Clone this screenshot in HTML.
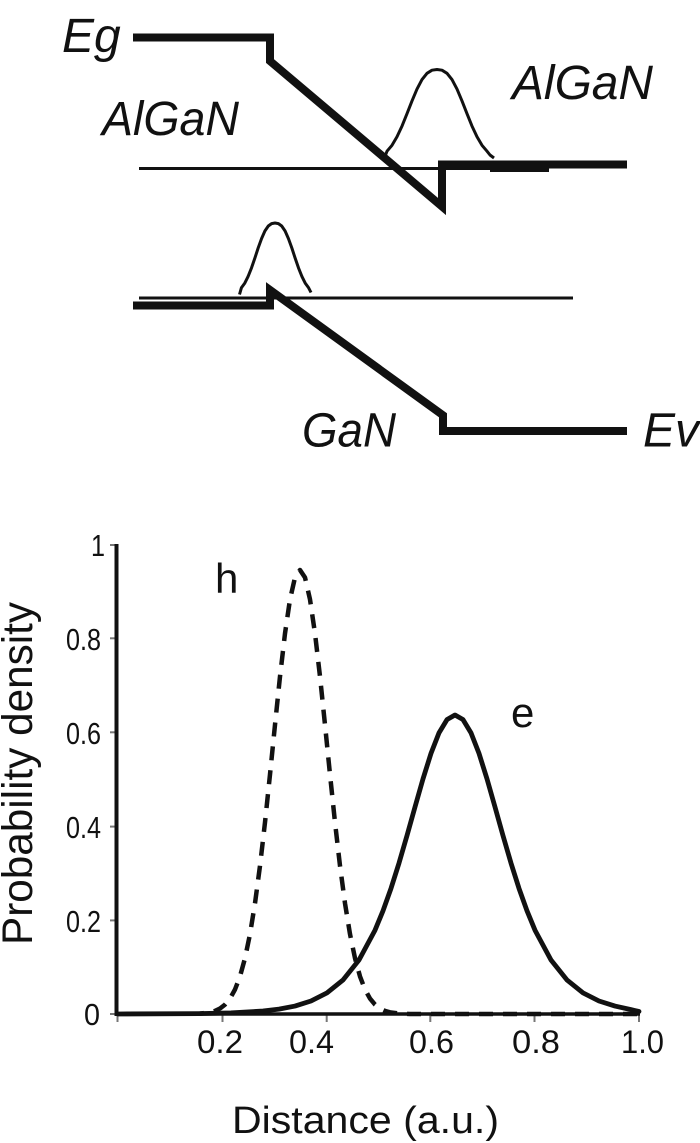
<!DOCTYPE html>
<html>
<head>
<meta charset="utf-8">
<style>
html,body{margin:0;padding:0;background:#fff;}
body{width:700px;height:1143px;overflow:hidden;}
svg{display:block;}
text{font-family:"Liberation Sans", Arial, sans-serif;fill:#111;}
.it{font-style:italic;}
</style>
</head>
<body>
<svg width="700" height="1143" viewBox="0 0 700 1143" xmlns="http://www.w3.org/2000/svg">
<rect x="0" y="0" width="700" height="1143" fill="#fff"/>

<!-- ===== Band diagram ===== -->
<line x1="139" y1="168.5" x2="549" y2="168.5" stroke="#111" stroke-width="3"/>
<rect x="490" y="164" width="59" height="8" fill="#111"/>
<line x1="139" y1="298" x2="573" y2="298" stroke="#111" stroke-width="3"/>

<path d="M133,37.5 H270 V61 L442,206.5 V164.5 H627" fill="none" stroke="#111" stroke-width="8" stroke-linejoin="miter" stroke-miterlimit="6"/>
<path d="M133,305.5 H270 V290 L443,415.3 V431 H627" fill="none" stroke="#111" stroke-width="8" stroke-linejoin="miter" stroke-miterlimit="6"/>

<polyline fill="none" stroke="#111" stroke-width="3" stroke-linejoin="round"
points="385,156.5 387,151.2 392,145.3 397,136.8 402,126.1 407,113.7 412,100.9 417,89.1 422,79.6 427,73.3 432,70.2 437,69.5 442,70.2 447,73.3 452,79.6 457,89.1 462,100.9 467,113.7 472,126.1 477,136.8 482,145.3 487,151.2 490,155 494,158"/>
<polyline fill="none" stroke="#111" stroke-width="3" stroke-linejoin="round"
points="239.5,294.5 241.4,287.8 244.8,283.1 248.1,276.4 251.5,267.9 254.9,258 258.2,247.9 261.6,238.5 264.9,231 268.3,226 271.6,223.6 275,223 278.4,223.6 281.7,226 285.1,231 288.4,238.5 291.8,247.9 295.1,258 298.5,267.9 301.9,276.4 305.2,283.1 308.6,287.8 311,292.5"/>

<text class="it" x="62" y="52" font-size="48">Eg</text>
<text class="it" x="102" y="135" font-size="48" textLength="137" lengthAdjust="spacingAndGlyphs">AlGaN</text>
<text class="it" x="512" y="99" font-size="48" textLength="141" lengthAdjust="spacingAndGlyphs">AlGaN</text>
<text class="it" x="302" y="446.7" font-size="48" textLength="94" lengthAdjust="spacingAndGlyphs">GaN</text>
<text class="it" x="643" y="446.7" font-size="48">Ev</text>

<!-- ===== Chart ===== -->
<g stroke="#777" stroke-width="2">
  <line x1="110" y1="545" x2="116" y2="545"/>
  <line x1="110" y1="638.3" x2="116" y2="638.3"/>
  <line x1="110" y1="732.3" x2="116" y2="732.3"/>
  <line x1="110" y1="826.6" x2="116" y2="826.6"/>
  <line x1="110" y1="920.4" x2="116" y2="920.4"/>
  <line x1="110" y1="1014" x2="116" y2="1014"/>
  <line x1="117.5" y1="1014" x2="117.5" y2="1022"/>
  <line x1="222.5" y1="1014" x2="222.5" y2="1022"/>
  <line x1="326.7" y1="1014" x2="326.7" y2="1022"/>
  <line x1="430.3" y1="1014" x2="430.3" y2="1022"/>
  <line x1="534.5" y1="1014" x2="534.5" y2="1022"/>
  <line x1="639" y1="1014" x2="639" y2="1022"/>
</g>
<line x1="116.5" y1="544" x2="116.5" y2="1016" stroke="#111" stroke-width="4"/>
<line x1="115" y1="1014" x2="640" y2="1014" stroke="#111" stroke-width="3.5"/>

<polyline fill="none" stroke="#111" stroke-width="4.5" stroke-dasharray="14 10" stroke-linejoin="round"
points="190,1013.8 200,1013.6 210,1012.3 215,1010.9 220,1008.5 225,1004.6 230,998.6 235,989.5 240,976.4 245,958.2 250,934.1 255,903.3 260,865.8 265,822.4 270,774.5 275,724.8 280,676.5 285,633.5 290,599.4 295,577.5 300,570 305,577.5 310,599.4 315,633.5 320,676.5 325,724.8 330,774.5 335,822.4 340,865.8 345,903.3 350,934.1 355,958.2 360,976.4 365,989.5 370,998.6 375,1004.6 380,1008.5 385,1010.9 390,1012.3 400,1013.6 410,1014 639,1014"/>

<polyline fill="none" stroke="#111" stroke-width="4.8" stroke-linejoin="round" stroke-linecap="round"
points="118,1014 199,1013.6 231,1012.9 263,1011.05 279,1009.15 295,1006.05 311,1001 327,992.9 343,980 359,960 375,930.2 383,910.8 391,888.4 399,863.1 407,835.6 415,807 423,778.9 431,753.4 439,732.9 447,719.6 455,715 463,719.6 471,732.9 479,753.4 487,778.9 495,807 503,835.6 511,863.1 519,888.4 527,910.8 535,930.2 551,960 567,980 583,992.9 599,1001 615,1006.05 631,1009.6 639,1011.5"/>

<text x="215" y="593" font-size="42">h</text>
<text x="511" y="727" font-size="42">e</text>

<text x="91" y="556" font-size="31" textLength="14" lengthAdjust="spacingAndGlyphs">1</text>
<text x="66" y="650" font-size="31" textLength="35" lengthAdjust="spacingAndGlyphs">0.8</text>
<text x="66" y="744" font-size="31" textLength="35" lengthAdjust="spacingAndGlyphs">0.6</text>
<text x="66" y="838" font-size="31" textLength="35" lengthAdjust="spacingAndGlyphs">0.4</text>
<text x="66" y="932" font-size="31" textLength="35" lengthAdjust="spacingAndGlyphs">0.2</text>
<text x="84" y="1025" font-size="31" textLength="16" lengthAdjust="spacingAndGlyphs">0</text>

<text x="197" y="1053" font-size="32" textLength="46" lengthAdjust="spacingAndGlyphs">0.2</text>
<text x="289" y="1053" font-size="32" textLength="45" lengthAdjust="spacingAndGlyphs">0.4</text>
<text x="409" y="1053" font-size="32" textLength="45" lengthAdjust="spacingAndGlyphs">0.6</text>
<text x="512" y="1053" font-size="32" textLength="48" lengthAdjust="spacingAndGlyphs">0.8</text>
<text x="621" y="1053" font-size="32" textLength="43" lengthAdjust="spacingAndGlyphs">1.0</text>

<text x="232" y="1133" font-size="38" textLength="267" lengthAdjust="spacingAndGlyphs">Distance (a.u.)</text>
<text transform="translate(32,773.5) rotate(-90)" x="0" y="0" font-size="43" text-anchor="middle" textLength="343" lengthAdjust="spacingAndGlyphs">Probability density</text>
</svg>
</body>
</html>
